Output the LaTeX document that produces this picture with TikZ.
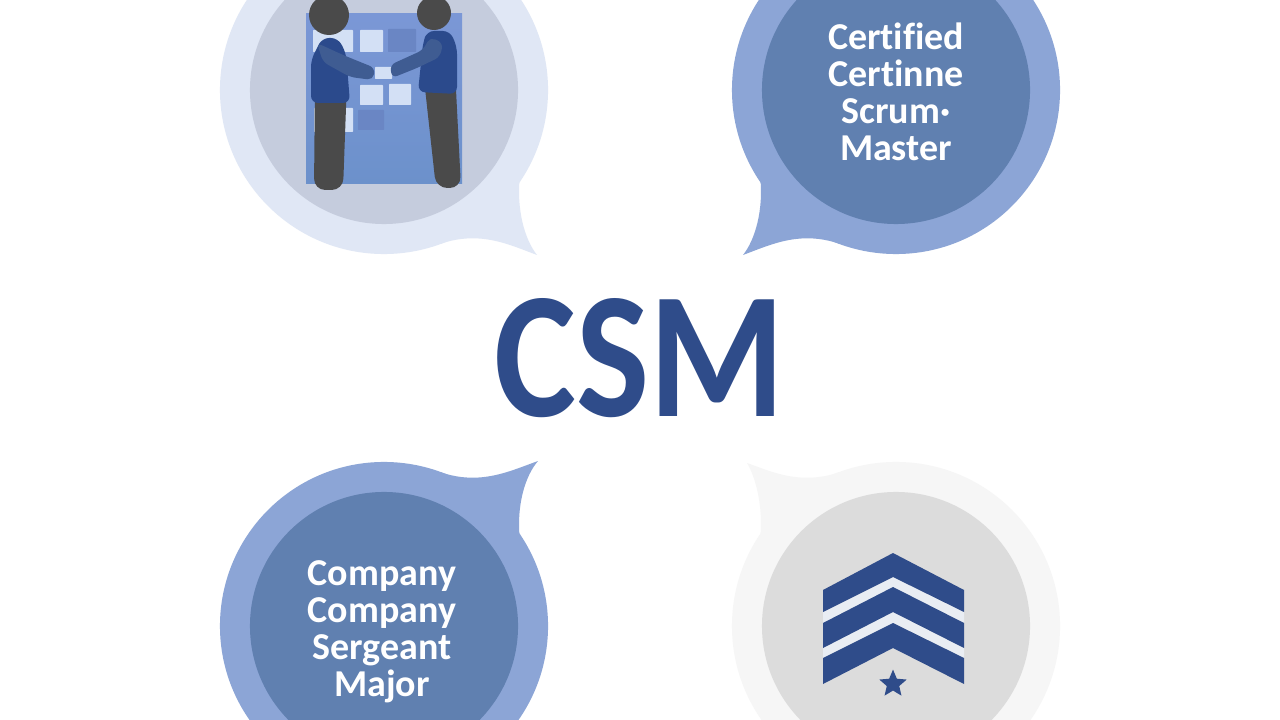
\documentclass[tikz,border=0pt]{standalone}
\usepackage{fontspec}
\setmainfont[Ligatures=NoCommon]{Carlito}
\newfontfamily\csmfont[FakeStretch=0.86]{Carlito}
\usetikzlibrary{shapes.geometric}
\definecolor{paleo}{HTML}{E0E7F5}
\definecolor{palei}{HTML}{C5CCDD}
\definecolor{blueo}{HTML}{8CA5D6}
\definecolor{bluei}{HTML}{6080B0}
\definecolor{greyo}{HTML}{F6F6F6}
\definecolor{greyi}{HTML}{DCDCDC}
\definecolor{navy}{HTML}{2F4C8A}
\definecolor{shirt}{HTML}{2B4A8C}
\definecolor{sleeve}{HTML}{3F5C92}
\definecolor{dark}{HTML}{4A4A4A}
\definecolor{boardt}{HTML}{7B97D6}
\definecolor{boardb}{HTML}{6C91CB}
\definecolor{notel}{HTML}{D3E0F5}
\definecolor{noted}{HTML}{6A86C4}
\definecolor{gap}{HTML}{E9EDF3}
\tikzset{
    bubbleo/.style = {circle, inner sep=0pt, minimum size=8.2cm},
    bubblei/.style = {circle, inner sep=0pt, minimum size=6.7cm},
    bubbletext/.style = {align=center, text=white, font=\fontsize{27}{26.3}\selectfont\bfseries},
    note/.style = {fill=#1, rounded corners=0.5pt},
    leg/.style = {fill=dark, rounded corners=8pt},
    body/.style = {fill=shirt, rounded corners=5pt},
    arm/.style = {fill=sleeve, rounded corners=4pt},
    chevron/.style = {fill=navy}
}
\begin{document}
\begin{tikzpicture}[x=0.025cm,y=-0.025cm]
\clip (0,0) rectangle (1280,720);
\fill[white] (0,0) rectangle (1280,720);
% top left
\fill[paleo] (520,175) .. controls (516,210) and (525,240) .. (537,255) .. controls (510,245) and (480,230) .. (440,244) -- (384,90) -- cycle;
\node[bubbleo, fill=paleo] (TLO) at (384,90) {};
\node[bubblei, fill=palei] (TLI) at (384,90) {};
\path[top color=boardt, bottom color=boardb] (306,14) rectangle (462,184);
\fill[note=notel] (313,30) rectangle (353,52);
\fill[note=notel] (360,30) rectangle (383,52);
\fill[note=noted] (388,29) rectangle (416,52);
\fill[note=notel] (360,85) rectangle (383,105);
\fill[note=notel] (389,84) rectangle (411,105);
\fill[note=notel] (314,108) rectangle (353,132);
\fill[note=noted] (358,110) rectangle (384,130);
\fill[note=notel] (375,67) rectangle (392,79);
\fill[leg] (315,80) -- (347,80) -- (343,190) -- (314,190) -- cycle;
\fill[leg] (423,70) -- (455,70) -- (461,188) -- (436,188) -- cycle;
\fill[body] (322,38) -- (338,38) -- (346,53) -- (350,103) -- (311,103) -- (311,60) -- cycle;
\fill[body] (427,31) -- (450,31) -- (457,47) -- (457,94) -- (418,92) -- (423,43) -- cycle;
\fill[arm] (317,43) -- (343,55) -- (375,68) -- (373,80) -- (350,77) -- (323,62) -- cycle;
\fill[arm] (390,65) -- (423,50) -- (430,37) -- (443,43) -- (440,57) -- (417,68) -- (392,78) -- cycle;
\node[circle, inner sep=0pt, minimum size=1cm, fill=dark] (LH) at (329,15) {};
\node[circle, inner sep=0pt, minimum size=0.85cm, fill=dark] (RH) at (434,13) {};
% top right
\fill[blueo] (760,175) .. controls (764,210) and (755,240) .. (743,255) .. controls (770,245) and (800,230) .. (840,244) -- (896,90) -- cycle;
\node[bubbleo, fill=blueo] (TRO) at (896,90) {};
\node[bubblei, fill=bluei] (TRI) at (896,90) {};
\node[bubbletext] (CSMT) at (896,92) {Certified\\Certinne\\Scrum·\\Master};
% bottom left
\fill[blueo] (520,541) .. controls (516,506) and (525,476) .. (538,461) .. controls (510,471) and (480,486) .. (440,472) -- (384,626) -- cycle;
\node[bubbleo, fill=blueo] (BLO) at (384,626) {};
\node[bubblei, fill=bluei] (BLI) at (384,626) {};
\node[bubbletext] (CSMB) at (382,632) {Company\\Company\\Sergeant\\Major};
% bottom right
\fill[greyo] (760,541) .. controls (764,506) and (755,476) .. (747,463) .. controls (770,471) and (800,486) .. (840,472) -- (896,626) -- cycle;
\node[bubbleo, fill=greyo] (BRO) at (896,626) {};
\node[bubblei, fill=greyi] (BRI) at (896,626) {};
\fill[gap] (823,612) -- (893,577) -- (964,612) -- (964,623) -- (893,587) -- (823,623) -- cycle;
\fill[gap] (823,648) -- (893,612) -- (964,648) -- (964,658) -- (893,623) -- (823,658) -- cycle;
\fill[chevron] (823,590) -- (893,553) -- (964,590) -- (964,612) -- (893,577) -- (823,612) -- cycle;
\fill[chevron] (823,623) -- (893,587) -- (964,623) -- (964,648) -- (893,612) -- (823,648) -- cycle;
\fill[chevron] (823,658) -- (893,623) -- (964,658) -- (964,684) -- (893,648) -- (823,684) -- cycle;
\node[star, star points=5, star point ratio=2.2, inner sep=0pt, minimum size=0.72cm, fill=navy] (ST) at (893,684) {};
% centre
\node[text=navy, inner sep=0pt, font=\csmfont\fontsize{128}{128}\selectfont\bfseries] (CSM) at (640,358) {CSM};
\end{tikzpicture}
\end{document}
